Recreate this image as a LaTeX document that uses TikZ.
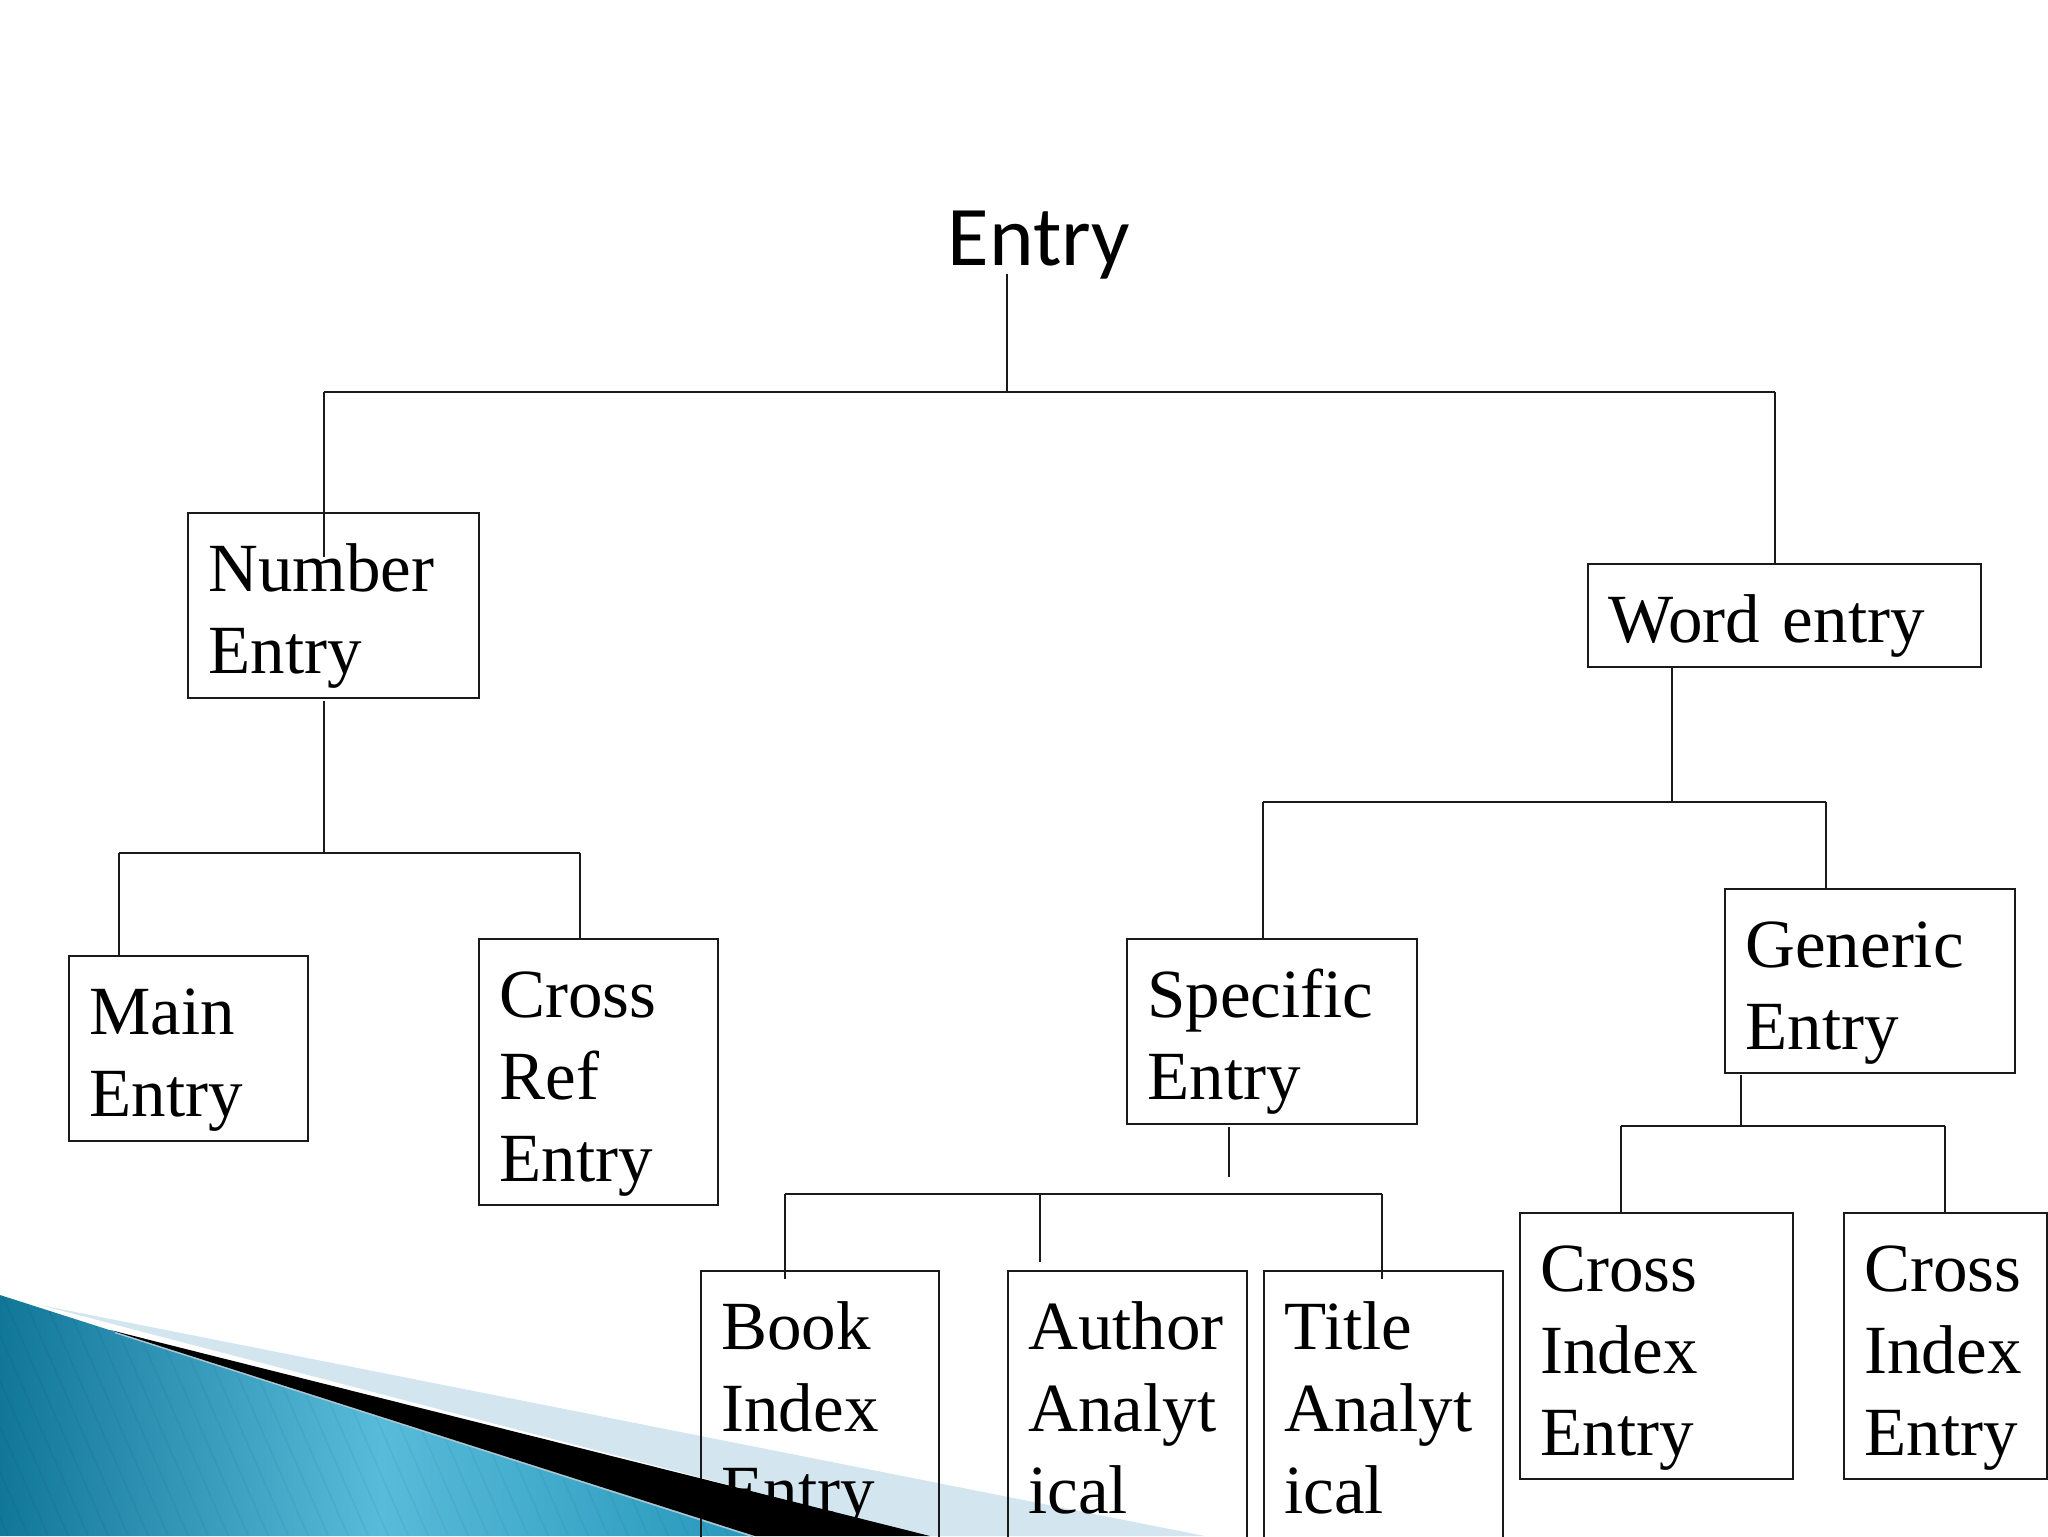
\documentclass[tikz,border=0pt]{standalone}
\usepackage{fontspec}
\setmainfont{Liberation Serif}
\newfontfamily\calibfont{Carlito}
\definecolor{linec}{HTML}{1A1A1A}
\definecolor{tealdark}{HTML}{117799}
\definecolor{tealmid}{HTML}{58BBDA}
\definecolor{tealright}{HTML}{2697BA}
\definecolor{paleblue}{HTML}{D3E5EE}
\definecolor{rimc}{HTML}{A9C7D3}
\tikzset{
  box/.style={draw=linec, line width=1pt, inner sep=0pt, anchor=north west},
  lbl/.style={anchor=base west, inner sep=0pt, text width=140pt, align=left,
              font=\fontsize{34.5}{41}\selectfont},
  conn/.style={draw=linec, line width=1pt},
}
\begin{document}
\begin{tikzpicture}[x=0.5pt,y=-0.5pt]
\useasboundingbox (0,0) rectangle (2048,1536);
\clip (0,0) rectangle (2048,1536);
\fill[white] (0,0) rectangle (2048,1536);

% decoration background (bottom-left)
\fill[paleblue] (40,1305) -- (1205,1536) -- (925,1536) -- cycle;
\begin{scope}
  \clip (0,1295) -- (753,1536) -- (0,1536) -- cycle;
  \shade[left color=tealdark, right color=tealright, middle color=tealmid]
    (0,1290) rectangle (760,1540);
  \foreach \s in {-300,-280,...,760}
    \draw[black, opacity=0.04, line width=0.8pt] (\s,1290) -- (\s+110,1540);
\end{scope}
\draw[rimc, line width=1.2pt] (115,1332) -- (753,1536);

% root
\node[anchor=base, inner sep=0pt, font=\calibfont\fontsize{42.5}{50}\selectfont] (root) at (1039,265) {Entry};

% boxes
\node[box, minimum width=145.5pt, minimum height=92.5pt] (num) at (187,512) {};
\node[lbl] (numt) at (208,591) {Number\\Entry};
\node[box, minimum width=196.5pt, minimum height=51.5pt] (word) at (1587,563) {};
\node[lbl, text width=190pt] (wordt) at (1608,642) {Word entry};
\node[box, minimum width=119.5pt, minimum height=92.5pt] (main) at (68,955) {};
\node[lbl] (maint) at (89,1034) {Main\\Entry};
\node[box, minimum width=119.5pt, minimum height=133pt] (cref) at (478,938) {};
\node[lbl] (creft) at (499,1017) {Cross\\Ref\\Entry};
\node[box, minimum width=145pt, minimum height=92.5pt] (spec) at (1126,938) {};
\node[lbl] (spect) at (1147,1017) {Specific\\Entry};
\node[box, minimum width=145pt, minimum height=92pt] (gen) at (1724,888) {};
\node[lbl] (gent) at (1745,967) {Generic\\Entry};
\node[box, minimum width=119pt, minimum height=134pt] (book) at (700,1270) {};
\node[lbl] (bookt) at (721,1349) {Book\\Index\\Entry};
\node[box, minimum width=119.5pt, minimum height=134pt] (auth) at (1007,1270) {};
\node[lbl] (autht) at (1028,1349) {Author\\Analyt\\ical};
\node[box, minimum width=119.5pt, minimum height=134pt] (title) at (1263,1270) {};
\node[lbl] (titlet) at (1284,1349) {Title\\Analyt\\ical};
\node[box, minimum width=136.5pt, minimum height=133pt] (cix1) at (1519,1212) {};
\node[lbl] (cix1t) at (1540,1291) {Cross\\Index\\Entry};
\node[box, minimum width=101.5pt, minimum height=133pt] (cix2) at (1843,1212) {};
\node[lbl] (cix2t) at (1864,1291) {Cross\\Index\\Entry};

% connector coordinates
\coordinate (r1) at (1007,274);
\coordinate (r2) at (1007,392);
\coordinate (hL) at (324,392);
\coordinate (hR) at (1775,392);
\coordinate (numIn) at (324,557);
\coordinate (n1) at (324,701);
\coordinate (n2) at (324,853);
\coordinate (nL) at (119,853);
\coordinate (nR) at (580,853);
\coordinate (w1) at (1672,666);
\coordinate (w2) at (1672,802);
\coordinate (wL) at (1263,802);
\coordinate (wR) at (1826,802);
\coordinate (s1) at (1229,1127);
\coordinate (s2) at (1229,1177);
\coordinate (bL) at (785,1194);
\coordinate (bM) at (1040,1194);
\coordinate (bR) at (1382,1194);
\coordinate (bLin) at (785,1279);
\coordinate (bMend) at (1040,1262);
\coordinate (bRin) at (1382,1279);
\coordinate (g1) at (1741,1075);
\coordinate (g2) at (1741,1126);
\coordinate (cL) at (1621,1126);
\coordinate (cR) at (1945,1126);

\draw[conn] (r1) -- (r2);
\draw[conn] (hL) -- (hR);
\draw[conn] (hL) -- (numIn);
\draw[conn] (hR) -- (hR |- word.north);
\draw[conn] (n1) -- (n2);
\draw[conn] (nL) -- (nR);
\draw[conn] (nL) -- (nL |- main.north);
\draw[conn] (nR) -- (nR |- cref.north);
\draw[conn] (w1) -- (w2);
\draw[conn] (wL) -- (wR);
\draw[conn] (wL) -- (wL |- spec.north);
\draw[conn] (wR) -- (wR |- gen.north);
\draw[conn] (s1) -- (s2);
\draw[conn] (bL) -- (bR);
\draw[conn] (bL) -- (bLin);
\draw[conn] (bM) -- (bMend);
\draw[conn] (bR) -- (bRin);
\draw[conn] (g1) -- (g2);
\draw[conn] (cL) -- (cR);
\draw[conn] (cL) -- (cL |- cix1.north);
\draw[conn] (cR) -- (cR |- cix2.north);

% black wedge on top
\fill[black] (110,1330) -- (930,1536) -- (755,1536) -- cycle;
\end{tikzpicture}
\end{document}
